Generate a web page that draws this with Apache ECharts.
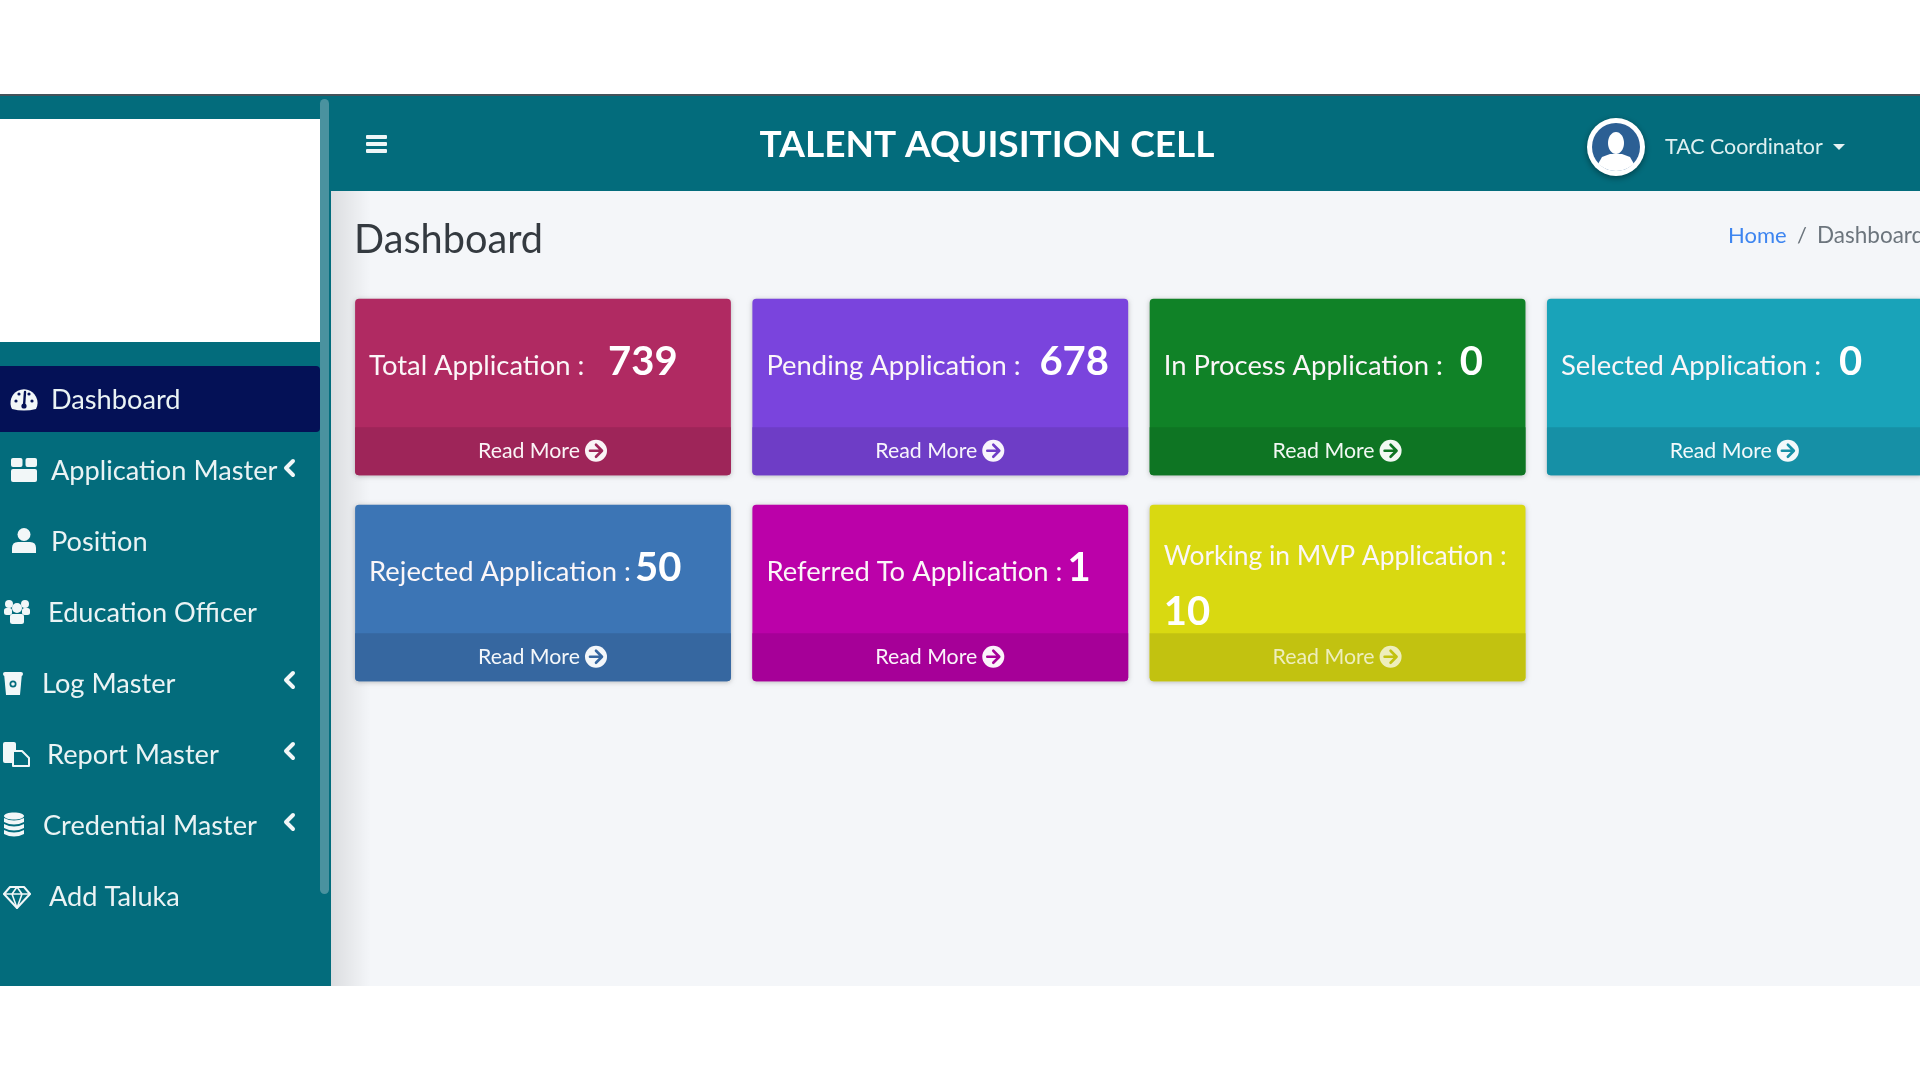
<!DOCTYPE html>
<html>
<head>
<meta charset="utf-8">
<title>Dashboard</title>
<script src="https://cdn.jsdelivr.net/npm/echarts@6/dist/echarts.min.js"></script>
<style>
    html, body { margin: 0; padding: 0; background: #fff; overflow: hidden; }
    #chart { width: 1920px; height: 1080px; filter: blur(0.6px); }
</style>
</head>
<body>
<div id="chart"></div>
<script>
const cardLabels = [
    'Total Application :',
    'Pending Application :',
    'In Process Application :',
    'Selected Application :',
    'Rejected Application :',
    'Referred To Application :',
    'Working in MVP Application :'
]
const cardValues = [739, 678, 0, 0, 50, 1, 10]
const cardColumns = [0, 1, 2, 3, 0, 1, 2]
const cardRows = [0, 0, 0, 0, 1, 1, 1]
const menuLabels = [
    'Dashboard',
    'Application Master',
    'Position',
    'Education Officer',
    'Log Master',
    'Report Master',
    'Credential Master',
    'Add Taluka'
]
const menuHasArrow = [0, 1, 0, 0, 1, 1, 1, 0]

// layout and looks, separate from the data above
const cardColors = ['#b02a62', '#7a44dd', '#108227', '#19a3b9', '#3c75b5', '#bb01a9', '#d9d911']
const footColors = ['#9e2559', '#6e3dc6', '#0e7523', '#1690a6', '#3667a0', '#a60098', '#c2c210']
const valueOffsets = [253, 287, 310, 292, 280, 315, 14]
const menuIcons = ['gauge', 'box', 'person', 'users', 'cup', 'copy', 'db', 'gem']
const menuTextX = [51, 51, 51, 48, 42, 47, 43, 49]
const menuIconX = [24, 24, 24, 17, 13, 16, 14, 17]
const TEAL = '#036c7c'
const FONT = 'Lato, "Noto Sans", sans-serif'

function txt(text, x, y, font, fill, align) {
    return {
        type: 'text',
        x, y,
        style: {
            text, fill, font,
            align: align || 'left', textAlign: align || 'left',
            verticalAlign: 'middle', textVerticalAlign: 'middle'
        }
    }
}

function rect(x, y, width, height, fill, r) {
    return { type: 'rect', shape: { x, y, width, height, r: r || 0 }, style: { fill } }
}

function circle(cx, cy, r, fill) {
    return { type: 'circle', shape: { cx, cy, r }, style: { fill } }
}

// only custom series understand path elements, the graphic component does not
function pathOf(d, fill, stroke, lineWidth) {
    return {
        type: 'path',
        shape: { pathData: d },
        style: { fill: fill || 'none', stroke: stroke || 'none', lineWidth: lineWidth || 0, lineCap: 'round', lineJoin: 'round' }
    }
}

function polygon(points, fill) {
    return { type: 'polygon', shape: { points }, style: { fill } }
}

function icon(name, cx, cy, bg) {
    const w = '#f2f7f8'
    const moved = list => ({ type: 'group', x: cx, y: cy, children: list })
    if (name == 'gauge') {
        return moved([
            pathOf('M-12 10 A13.5 13.5 0 1 1 12 10 Q0 13 -12 10 Z', w),
            circle(-8, 2, 1.6, bg), circle(-5, -5, 1.6, bg), circle(5, -5, 1.6, bg), circle(8, 2, 1.6, bg),
            pathOf('M0 7 L1 -7', 'none', bg, 2.4),
            circle(0, 7, 2.6, bg)
        ])
    }
    if (name == 'box') {
        return moved([
            rect(-13, -12, 11.5, 9, w, 2),
            rect(1.5, -12, 11.5, 9, w, 2),
            rect(-13, -1, 26, 13, w, 2)
        ])
    }
    if (name == 'person') {
        return moved([
            circle(0, -6.5, 6.5, w),
            pathOf('M-12 12 L-12 7 Q-12 1 -6 1 L6 1 Q12 1 12 7 L12 12 Z', w)
        ])
    }
    if (name == 'users') {
        return moved([
            circle(-8, -8, 4, w), circle(8, -8, 4, w),
            rect(-13, -4, 8, 7, w, 2.5), rect(5, -4, 8, 7, w, 2.5),
            circle(0, -4, 5, w),
            rect(-7, 2, 14, 10, w, 2.5)
        ])
    }
    if (name == 'cup') {
        return moved([
            pathOf('M-9 -10 L9 -10 L7 12 L-7 12 Z', w),
            rect(-10, -11, 20, 4, w, 2),
            circle(0, 1, 3.5, bg),
            circle(0, 1, 1.8, w)
        ])
    }
    if (name == 'copy') {
        return moved([
            rect(-13, -12, 13, 21, w, 2),
            pathOf('M-3 -3 L6 -3 L13 4 L13 12 L-3 12 Z', bg, w, 2)
        ])
    }
    if (name == 'db') {
        return moved([
            { type: 'ellipse', shape: { cx: 0, cy: -9, rx: 10, ry: 3.5 }, style: { fill: w } },
            pathOf('M-10 -7 Q0 -2 10 -7 L10 -3 Q0 2 -10 -3 Z', w),
            pathOf('M-10 -1 Q0 4 10 -1 L10 3 Q0 8 -10 3 Z', w),
            pathOf('M-10 5 Q0 10 10 5 L10 9 Q0 14 -10 9 Z', w)
        ])
    }
    return moved([
        pathOf('M-7 -9 L7 -9 L13 -2 L0 12 L-13 -2 Z', 'none', w, 2),
        pathOf('M-13 -2 L13 -2 M-5 -2 L0 12 L5 -2 L0 -9 L-5 -2', 'none', w, 1.6)
    ])
}

function renderCard(params, api) {
    const i = params.dataIndex
    const center = api.coord([api.value(0), api.value(1)])
    const band = api.size([1, 1])
    const w = band[0] - 21.5
    const h = band[1] - 29.5
    const x = center[0] - w / 2
    const y = center[1] - h / 2
    const foot = 48
    const wraps = cardLabels[i].length > 25
    const read = 'rgba(255,255,255,' + (wraps ? 0.72 : 0.95) + ')'
    return {
        type: 'group',
        children: [
            {
                type: 'rect',
                shape: { x, y, width: w, height: h, r: 4 },
                style: { fill: cardColors[i], shadowBlur: 5, shadowOffsetY: 1, shadowColor: 'rgba(0,0,0,0.25)' }
            },
            { type: 'rect', shape: { x, y: y + h - foot, width: w, height: foot, r: [0, 0, 4, 4] }, style: { fill: footColors[i] } },
            txt(cardLabels[i], x + 14, y + (wraps ? 52 : 67), (wraps ? '26.4px ' : '27.4px ') + FONT, '#fbf6f8'),
            txt(String(api.value(2)), x + valueOffsets[i], y + (wraps ? 107 : 63), 'bold 40px ' + FONT, '#fff'),
            txt('Read More', center[0] - 65, y + h - 24, '21.3px ' + FONT, read),
            circle(center[0] + 53, y + h - 24.5, 11, read),
            pathOf(
                'M' + (center[0] + 47) + ' ' + (y + h - 24.5) + ' L' + (center[0] + 58) + ' ' + (y + h - 24.5) +
                ' M' + (center[0] + 53) + ' ' + (y + h - 30.5) + ' L' + (center[0] + 59) + ' ' + (y + h - 24.5) +
                ' L' + (center[0] + 53) + ' ' + (y + h - 18.5),
                'none', footColors[i], 2.6
            )
        ]
    }
}

function renderMenu(params, api) {
    const i = params.dataIndex
    const cy = api.coord([0, api.value(0)])[1]
    const active = i == 0
    const children = []
    if (active) {
        children.push(rect(0, cy - 33, 320, 66, '#041156', [0, 4, 4, 0]))
    }
    children.push(icon(menuIcons[i], menuIconX[i], cy, active ? '#041156' : TEAL))
    children.push(txt(menuLabels[i], menuTextX[i], cy + 1, '27.2px ' + FONT, '#eaf3f4'))
    if (menuHasArrow[i]) {
        const ay = i == 1 ? cy - 2 : cy - 3
        children.push(pathOf('M293 ' + (ay - 7) + ' L286 ' + ay + ' L293 ' + (ay + 7), 'none', '#f2f7f8', 4))
    }
    return { type: 'group', children }
}

// frame of the page: sidebar, header, content background
const frame = [
    rect(0, 94, 1920, 892, TEAL),
    rect(331, 191, 1589, 795, '#f4f6f9'),
    {
        type: 'rect',
        shape: { x: 331, y: 191, width: 40, height: 795 },
        style: {
            fill: new echarts.graphic.LinearGradient(0, 0, 1, 0, [
                { offset: 0, color: 'rgba(0,0,0,0.10)' },
                { offset: 1, color: 'rgba(0,0,0,0)' }
            ])
        }
    },
    rect(0, 94, 1920, 2, '#45525a'),
    rect(0, 119, 321, 223, '#ffffff'),
    rect(320, 99, 9, 795, '#4a929f', 4.5),
    rect(366, 135, 21, 4, '#eef6f7', 1),
    rect(366, 142, 21, 4, '#eef6f7', 1),
    rect(366, 149, 21, 4, '#eef6f7', 1),
    txt('TALENT AQUISITION CELL', 987, 145, 'bold 37px ' + FONT, '#ffffff', 'center'),
    {
        type: 'circle',
        shape: { cx: 1616, cy: 147, r: 29 },
        style: { fill: '#fff', shadowBlur: 6, shadowOffsetY: 2, shadowColor: 'rgba(0,0,0,0.4)' }
    },
    circle(1616, 147, 24, '#2c5f94'),
    { type: 'ellipse', shape: { cx: 1616, cy: 143, rx: 8, ry: 11 }, style: { fill: '#fff' } },
    polygon([[1598, 164], [1602, 157], [1610, 154], [1622, 154], [1630, 157], [1634, 164], [1628, 168], [1622, 170.5], [1616, 171], [1610, 170.5], [1604, 168]], '#fff'),
    txt('TAC Coordinator', 1665, 147, '21.4px ' + FONT, '#dff0f1'),
    polygon([[1833, 144], [1845, 144], [1839, 150]], '#e6f2f3'),
    txt('Dashboard', 354, 240, '39.7px ' + FONT, '#343a40'),
    txt('Home', 1728, 236, '22px ' + FONT, '#3d85f0'),
    txt('/', 1797, 236, '22px ' + FONT, '#6c757d'),
    txt('Dashboard', 1817, 236, '22.5px ' + FONT, '#6c757d')
]

const chart = echarts.init(document.getElementById('chart'), null, { renderer: 'canvas' })
chart.setOption({
    animation: false,
    backgroundColor: '#fff',
    tooltip: { show: false },
    graphic: { elements: frame },
    grid: [
        { left: 344.35, top: 284, width: 1575.65, height: 412, containLabel: false },
        { left: 0, top: 363.5, width: 321, height: 568, containLabel: false }
    ],
    xAxis: [
        // the fourth column runs off the page, so the axis stops at the page edge
        { gridIndex: 0, type: 'value', show: false, min: -0.5, max: 3.466 },
        { gridIndex: 1, type: 'category', show: false, data: [0] }
    ],
    yAxis: [
        { gridIndex: 0, type: 'category', show: false, inverse: true, data: [0, 1] },
        { gridIndex: 1, type: 'category', show: false, inverse: true, data: menuLabels }
    ],
    series: [
        {
            type: 'custom',
            xAxisIndex: 0,
            yAxisIndex: 0,
            clip: false,
            silent: true,
            encode: { x: 0, y: 1 },
            data: cardValues.map((v, i) => [cardColumns[i], cardRows[i], v]),
            renderItem: renderCard
        },
        {
            type: 'custom',
            xAxisIndex: 1,
            yAxisIndex: 1,
            clip: false,
            silent: true,
            encode: { y: 0 },
            data: menuLabels.map((m, i) => [i]),
            renderItem: renderMenu
        }
    ]
})
</script>
</body>
</html>
